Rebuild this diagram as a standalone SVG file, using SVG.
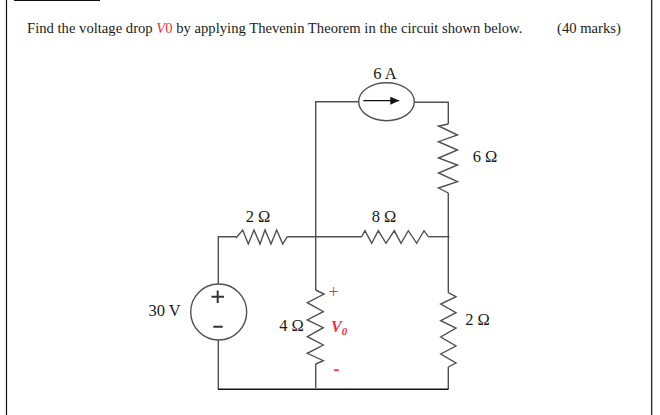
<svg xmlns="http://www.w3.org/2000/svg" width="660" height="415" viewBox="0 0 660 415">
<style>
text{font-family:"Liberation Serif","Times New Roman",serif;fill:#1a1a1a}
.t{font-size:14.65px}
.l{font-size:16.500px}
.r{fill:#f03040}
.w{fill:none;stroke:#505050;stroke-width:1.4}
.b{fill:none;stroke:#151515;stroke-width:1.4}
.e{fill:#fff;stroke:#505050;stroke-width:1.4}
</style>
<defs><marker id="a" markerWidth="9" markerHeight="8" refX="9" refY="4" orient="auto" markerUnits="userSpaceOnUse"><path d="M0 0L9 4L0 8Z" fill="#111"/></marker></defs>
<rect width="660" height="415" fill="#fff"/>
<g id="frame"><path d="M14 .5H100" stroke="#111" stroke-width="1.2"/><path d="M6.500 0V415M651.700 0V415" stroke="#111" stroke-width="1.2"/></g>
<g id="heading">
<text x="27" y="33" class="t">Find the voltage drop <tspan class="r" font-style="italic">V</tspan><tspan class="r">0</tspan> by applying Thevenin Theorem in the circuit shown below.</text>
<text x="557" y="33" class="t">(40 marks)</text>
</g>
<g id="connectors">
<path class="w" d="M359 101.700H315.700V290"/>
<path class="w" d="M315.700 364V388"/>
<path class="w" d="M414 102.300H448.300V124"/>
<path class="w" d="M448.300 193V292.700"/>
<path class="w" d="M448.300 367V389"/>
<path class="w" d="M218.300 285V236.700H236"/>
<path class="w" d="M287.300 236.700H361.700"/>
<path class="w" d="M428.300 236.700H449.500"/>
<path class="w" d="M218.300 340V389"/>
<path class="b" d="M218 389.300H448.500"/>
</g>
<g id="source-6a"><ellipse class="e" cx="386.500" cy="101.700" rx="27.800" ry="19"/><path d="M363.300 100.700H399.300" stroke="#111" stroke-width="1.3" marker-end="url(#a)"/><text x="385" y="79" class="l" text-anchor="middle">6 A</text></g>
<g id="r-6"><path class="w" d="M448.300 124L438.500 126L457.500 135L438.500 141.700L457.500 150L438.500 158L457.500 165L438.500 173L457.500 181.700L438.500 188L448.300 193"/><text x="485" y="162" class="l" text-anchor="middle">6 Ω</text></g>
<g id="r-2-top"><path class="w" d="M236 238L242.700 230L248.300 244L254 230L260 244L265 230L271 244L276.700 230L282.700 244L287.300 236.700"/><text x="258" y="222" class="l" text-anchor="middle">2 Ω</text></g>
<g id="r-8"><path class="w" d="M361.700 236.700L365 230.700L371.700 243.300L378.300 230.700L386 243.300L394.300 230.700L401 243.300L408.300 230.700L416.700 243.300L424 230.700L428.300 236.700"/><text x="384" y="222" class="l" text-anchor="middle">8 Ω</text></g>
<g id="r-4"><path class="w" d="M315.700 290L324 294L307.300 302.700L323.300 311.700L307.300 320L323.300 327.700L307.300 336.700L323.300 345L307.300 353.300L323.300 360.700L315.700 364"/><text x="291.500" y="331" class="l" text-anchor="middle">4 Ω</text></g>
<g id="r-2-right"><path class="w" d="M448.300 292.700L456 296.700L440.700 304L456 312.700L440.700 320.700L456 328L440.700 337L456 346L440.700 354L456 363L448.300 367"/><text x="477.500" y="325" class="l" text-anchor="middle">2 Ω</text></g>
<g id="source-30v"><circle class="e" cx="218.700" cy="312" r="28"/><path d="M217.700 290.500V303M211.500 296.700H224M213.300 326.700H222.700" stroke="#333" stroke-width="2" fill="none"/><text x="164.500" y="316" class="l" text-anchor="middle">30 V</text></g>
<g id="vo">
<text x="333.500" y="298" font-size="18" class="r" text-anchor="middle">+</text>
<text x="331" y="332" font-size="16" font-style="italic" font-weight="bold" class="r">V<tspan dy="2.500" font-size="11">0</tspan></text>
<text x="336.500" y="375" font-size="18" class="r" text-anchor="middle" font-weight="bold">-</text>
</g>
</svg>
